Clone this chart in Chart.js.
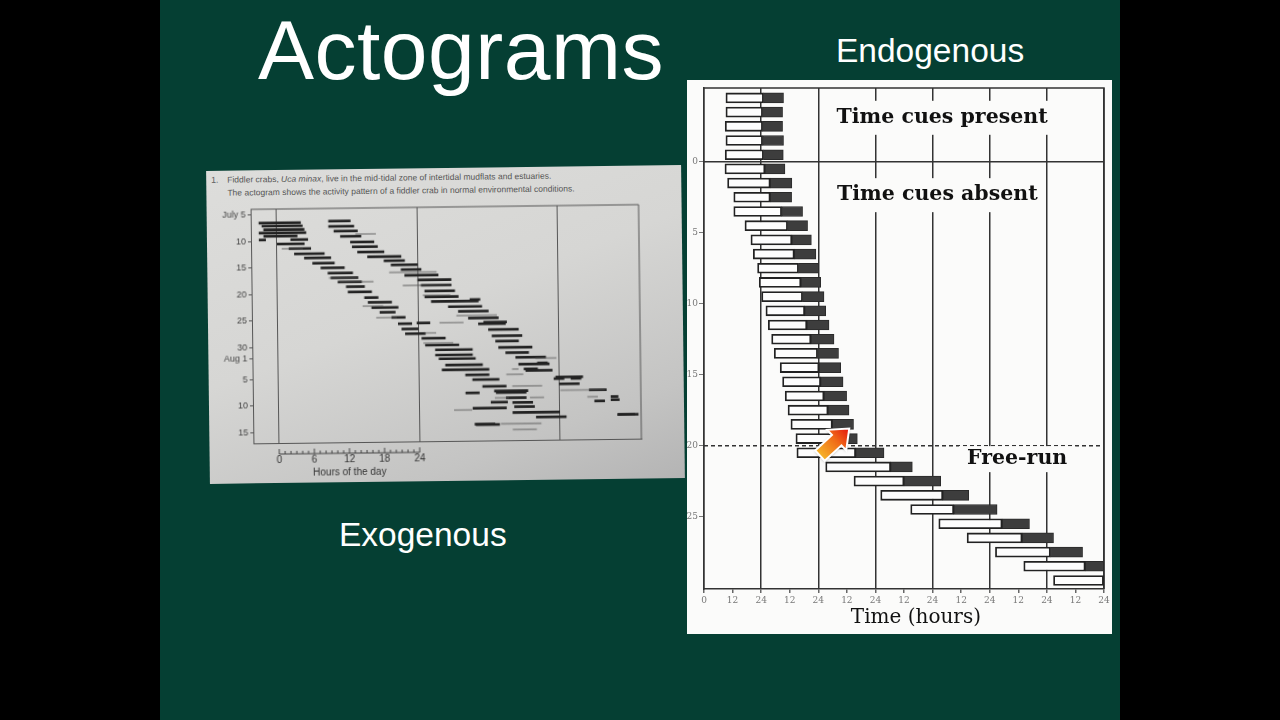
<!DOCTYPE html>
<html>
<head>
<meta charset="utf-8">
<script src="https://cdn.jsdelivr.net/npm/chart.js@4"></script>
<style>
  html, body { margin:0; padding:0; background:#000; }
  body { width:1280px; height:720px; position:relative; overflow:hidden; font-family:"Liberation Sans", Arial, sans-serif; }
  #slide { position:absolute; left:160px; top:0; width:960px; height:720px; background:#053f33; }
  .big { position:absolute; color:#fff; white-space:nowrap; }
  #title { left:258px; top:2px; font-size:84px; letter-spacing:0.5px; }
  #endoLbl { left:836px; top:32px; font-size:33.5px; }
  #exoLbl { left:339px; top:516px; font-size:33.5px; }
  #paper { position:absolute; left:208px; top:168px; width:475px; height:313px; transform:rotate(-0.7deg);
           background:linear-gradient(160deg, #dddddb 0%, #d6d6d4 45%, #c4c4c3 80%, #b4b4b4 100%); }
  #paper .q { position:absolute; font-size:8.5px; color:#555; white-space:nowrap; }
  #whitePanel { position:absolute; left:687px; top:80px; width:425px; height:554px; background:#fbfbfa; }
  canvas { position:absolute; left:0; top:0; }
</style>
</head>
<body>
<div id="slide"></div>
<div class="big" id="title">Actograms</div>
<div class="big" id="endoLbl">Endogenous</div>
<div class="big" id="exoLbl">Exogenous</div>

<div id="paper">
  <div class="q" style="left:5px;top:4px;">1.</div>
  <div class="q" style="left:21px;top:4px;">Fiddler crabs, <i>Uca minax</i>, live in the mid-tidal zone of intertidal mudflats and estuaries.</div>
  <div class="q" style="left:21px;top:17px;">The actogram shows the activity pattern of a fiddler crab in normal environmental conditions.</div>
  <canvas id="exo" width="475" height="313"></canvas>
</div>

<div id="whitePanel">
  <canvas id="endo" width="425" height="554"></canvas>
</div>

<script>
// ---------- Endogenous actogram (right) ----------
// one row per day, hours on a 7-day (0-168 h) axis
var endoDays   = [-5,-4,-3,-2,-1,0,1,2,3,4,5,6,7,8,9,10,11,12,13,14,15,16,17,18,19,20,21,22,23,24,25,26,27,28,29];
var restStart  = [9.2,9.2,8.9,9.2,8.9,8.8,9.9,12.5,12.5,17.2,19.7,20.7,22.5,23.2,24.2,26.0,27.0,28.4,29.5,32.0,33.0,34.1,35.3,36.5,38.6,39.0,51.1,63.0,74.2,86.8,98.6,110.5,122.4,134.3,146.8];
var restEnd    = [25.0,24.6,24.6,24.6,25.0,25.6,27.8,27.8,32.6,35.1,36.9,37.9,39.7,40.7,41.4,42.3,43.2,44.9,47.7,48.3,49.0,50.4,52.1,53.9,56.0,63.7,78.4,84.0,100.3,104.9,125.2,133.6,145.5,160.1,167.8];
var activeEnd  = [33.4,33.0,33.0,33.4,33.3,34.0,36.9,36.8,41.4,43.5,45.1,47.0,48.1,49.0,50.4,51.1,52.5,54.6,56.5,57.4,58.4,59.9,60.9,62.8,64.4,75.6,87.5,99.4,111.2,123.1,136.7,146.8,159.0,167.8,null];
var endoTickDays = [0,5,10,15,20,25];
var endoNotes = [
  {text:'Time cues present', hour:100, day:-3.1, half:17},
  {text:'Time cues absent',  hour:98,  day:2.35, half:17},
  {text:'Free-run',          hour:131.5, day:20.95, half:13}
];
var endoAxisTitle = {text:'Time (hours)', hour:89, below:29};
var arrowFrom = [48.7, 20.7];
var arrowTo   = [61.0, 18.8];

// ---------- Exogenous actogram (left) ----------
// [day after July 5, start hour, end hour], double plotted
var darkBouts = [
  [1.5,-3.0,4.1],[2.1,-2.5,4.4],[2.8,-2.2,4.7],[3.4,-3.0,5.0],[4.0,-2.2,3.5],[4.7,-3.0,-1.9],[4.7,2.4,5.3],
  [5.5,0.1,4.7],[6.4,2.1,5.8],[7.4,3.0,8.1],[8.2,4.7,9.2],[9.2,6.1,9.8],[10.1,7.5,11.5],[11.1,8.7,12.9],
  [12.0,9.2,13.8],[12.8,10.4,14.4],[13.7,11.8,14.9],[14.7,12.1,16.1],[15.8,14.9,17.2],[16.7,15.5,19.5],
  [17.7,16.1,20.6],[18.6,17.5,20.1],[19.6,19.5,21.8],[20.8,20.6,22.9],[21.8,21.2,24.0],[22.7,21.8,25.2],
  [23.6,24.6,28.6],[24.9,25.2,30.9],[25.8,26.9,33.2],[26.8,26.9,33.2],[27.5,27.5,33.7],[28.7,28.6,34.9],
  [29.6,28.0,36.0],[30.6,32.0,36.0],[31.5,33.2,37.7],[32.8,34.9,38.9],[34.0,32.0,34.3],[34.0,37.2,42.3],
  [35.0,38.9,42.3],[35.9,40.0,43.4],[36.9,33.2,38.9],[37.8,40.0,48.0],[38.7,44.0,49.1],[40.0,33.7,37.7],
  [1.3,8.9,12.6],[2.3,8.9,13.2],[3.2,9.8,13.8],[4.2,10.9,14.4],[5.3,12.6,16.6],[6.2,12.9,17.2],[7.2,13.8,18.3],
  [8.1,15.5,21.2],[8.9,18.3,21.8],[9.7,19.5,24.0],[10.6,21.2,24.6],[11.7,21.8,27.5],[12.6,24.0,29.7],
  [13.6,24.6,29.7],[14.7,25.2,30.3],[15.8,25.2,30.9],[16.7,26.3,34.3],[17.7,29.2,34.9],[18.6,30.9,36.0],
  [19.9,32.6,37.7],[21.0,34.3,38.9],[22.1,36.0,41.1],[23.3,36.6,41.7],[24.3,37.2,41.1],[25.5,37.7,43.4],
  [26.5,38.9,42.8],[27.4,40.6,45.7],[28.7,41.1,46.3],[29.9,42.3,46.8],[31.2,47.4,52.0],[32.5,48.0,51.4],
  [33.7,53.1,56.0],[35.6,56.8,58.2],[38.4,57.9,61.4],
  [20.7,23.8,26.0],[20.7,35.2,39.1],[16.4,32.9,34.6],[31.5,47.1,48.8],[31.5,50.0,51.7],[33.7,36.9,42.6],
  [35.0,56.8,58.0],[35.8,36.3,39.1],[35.8,54.0,55.7],[36.7,40.3,43.7],[38.4,58.0,60.8],[39.9,33.5,36.9],
  [29.6,42.0,44.3],[28.5,44.3,46.0]
];
var lightBouts = [
  [6.4,0.9,4.4],[12.0,8.9,13.6],[12.8,10.7,16.4],[3.8,13.5,16.9],[17.4,14.6,18.0],[19.6,16.9,20.3],
  [11.1,19.2,27.2],[13.6,21.5,29.5],[15.5,24.9,29.5],[19.4,30.6,37.4],[20.7,27.7,31.7],[22.6,25.0,27.0],
  [24.5,24.9,29.9],[27.6,44.0,47.5],[29.6,40.0,41.0],[30.6,39.0,41.8],[32.8,40.0,45.0],[33.7,48.2,55.7],
  [35.0,37.0,39.3],[35.0,43.0,45.3],[35.0,52.8,54.5],[39.9,38.0,44.8],[37.2,30.0,33.0],[41.0,40.0,44.0]
];
var exoTickDays   = [0,5,10,15,20,25,27,31,36,41];
var exoTickLabels = ['July 5','10','15','20','25','30','Aug 1','5','10','15'];
var exoHourLabels = [0,6,12,18,24];
var exoDayLines   = [0,24,48];

// ---------- right chart ----------
var endoPlugin = {
  id:'endoExtras',
  beforeDatasetsDraw: function(chart){
    var ctx = chart.ctx, a = chart.chartArea, xs = chart.scales.x, ys = chart.scales.y;
    ctx.save();
    ctx.strokeStyle = '#333'; ctx.lineWidth = 1.5;
    ctx.beginPath(); ctx.moveTo(a.left, a.top); ctx.lineTo(a.right, a.top); ctx.lineTo(a.right, a.bottom); ctx.stroke();
    var y0 = ys.getPixelForValue(0);
    ctx.beginPath(); ctx.moveTo(a.left, y0); ctx.lineTo(a.right, y0); ctx.stroke();
    var y20 = ys.getPixelForValue(20);
    ctx.setLineDash([4,3]); ctx.lineWidth = 1.5;
    ctx.beginPath(); ctx.moveTo(a.left, y20); ctx.lineTo(a.right, y20); ctx.stroke();
    ctx.setLineDash([]);
    ctx.font = 'bold 20.5px "DejaVu Serif", serif';
    ctx.textAlign = 'center'; ctx.textBaseline = 'middle';
    endoNotes.forEach(function(n){
      var x = xs.getPixelForValue(n.hour), y = ys.getPixelForValue(n.day);
      var w = ctx.measureText(n.text).width;
      ctx.fillStyle = '#fbfbfa';
      ctx.fillRect(x - w/2 - 8, y - n.half, w + 16, n.half * 2);
      ctx.fillStyle = '#111';
      ctx.fillText(n.text, x, y);
    });
    ctx.font = '20px "DejaVu Serif", serif';
    ctx.fillText(endoAxisTitle.text, xs.getPixelForValue(endoAxisTitle.hour), a.bottom + endoAxisTitle.below);
    ctx.restore();
  },
  afterDatasetsDraw: function(chart){
    var ctx = chart.ctx, xs = chart.scales.x, ys = chart.scales.y;
    var x1 = xs.getPixelForValue(arrowFrom[0]), y1 = ys.getPixelForValue(arrowFrom[1]);
    var x2 = xs.getPixelForValue(arrowTo[0]),   y2 = ys.getPixelForValue(arrowTo[1]);
    var ang = Math.atan2(y2 - y1, x2 - x1), len = Math.hypot(x2 - x1, y2 - y1);
    var sw = 7, hw = 14, hl = 17;
    ctx.save();
    ctx.translate(x1, y1); ctx.rotate(ang);
    ctx.beginPath();
    ctx.moveTo(0,-sw); ctx.lineTo(len-hl,-sw); ctx.lineTo(len-hl,-hw); ctx.lineTo(len,0);
    ctx.lineTo(len-hl,hw); ctx.lineTo(len-hl,sw); ctx.lineTo(0,sw); ctx.closePath();
    var g = ctx.createLinearGradient(0,0,len,0);
    g.addColorStop(0,'#f6b42a'); g.addColorStop(0.55,'#f06a17'); g.addColorStop(1,'#e3140e');
    ctx.shadowColor = 'rgba(0,0,0,0.35)'; ctx.shadowBlur = 3; ctx.shadowOffsetY = 1;
    ctx.fillStyle = g; ctx.fill();
    ctx.shadowColor = 'transparent';
    ctx.strokeStyle = '#fff'; ctx.lineWidth = 2; ctx.stroke();
    ctx.restore();
  }
};

var restData = [], activeData = [];
for (var i = 0; i < endoDays.length; i++) {
  restData.push({x:[restStart[i], restEnd[i]], y:endoDays[i] + 0.5});
  if (activeEnd[i] !== null) activeData.push({x:[restEnd[i], activeEnd[i]], y:endoDays[i] + 0.5});
}

new Chart(document.getElementById('endo'), {
  type:'bar',
  data:{ datasets:[
    { label:'rest', data:restData, backgroundColor:'#fdfdfd', borderColor:'#222', borderWidth:1.8,
      borderSkipped:false, barThickness:10, grouped:false },
    { label:'active', data:activeData, backgroundColor:'#3d3d3d', borderColor:'#2a2a2a', borderWidth:1,
      borderSkipped:false, barThickness:10, grouped:false }
  ]},
  options:{
    indexAxis:'y', responsive:false, animation:false,
    layout:{ padding:{ top:8, right:8, left:0, bottom:0 } },
    plugins:{ legend:{display:false}, tooltip:{enabled:false} },
    scales:{
      x:{ type:'linear', min:0, max:168, offset:false,
          afterFit:function(s){ s.height = 45; },
          ticks:{ stepSize:12, autoSkip:false, maxRotation:0, padding:2, color:'#777',
                  font:{family:'"DejaVu Serif", serif', size:9},
                  callback:function(v){ return v === 0 ? '0' : (v % 24 === 0 ? '24' : '12'); } },
          grid:{ offset:false, lineWidth:1.5, tickLength:4, tickColor:'#666',
                 color:function(c){ return (c.tick && c.tick.value % 24 === 0) ? '#333' : 'rgba(0,0,0,0)'; } },
          border:{ color:'#333', width:1.5 } },
      y:{ type:'linear', min:-5.2, max:30.1, reverse:true, offset:false,
          afterFit:function(s){ s.width = 17; },
          afterBuildTicks:function(s){ s.ticks = endoTickDays.map(function(v){ return {value:v}; }); },
          ticks:{ autoSkip:false, padding:1, color:'#777', font:{family:'"DejaVu Serif", serif', size:9} },
          grid:{ offset:false, drawOnChartArea:false, tickLength:5, tickColor:'#777' },
          border:{ color:'#333', width:1.5 } }
    }
  },
  plugins:[endoPlugin]
});

// ---------- left chart ----------
var exoPlugin = {
  id:'exoExtras',
  beforeDatasetsDraw:function(chart){
    var ctx = chart.ctx, a = chart.chartArea, xs = chart.scales.x;
    ctx.save();
    ctx.strokeStyle = '#555'; ctx.lineWidth = 1;
    ctx.beginPath(); ctx.moveTo(a.left, a.top); ctx.lineTo(a.right, a.top); ctx.lineTo(a.right, a.bottom); ctx.stroke();
    // hour ruler under the frame
    var ry = a.bottom + 11;
    ctx.strokeStyle = '#444';
    ctx.beginPath(); ctx.moveTo(xs.getPixelForValue(0), ry); ctx.lineTo(xs.getPixelForValue(24), ry);
    for (var h = 0; h <= 24; h++) {
      var px = xs.getPixelForValue(h), len = (h % 6 === 0) ? 5 : 3;
      ctx.moveTo(px, ry); ctx.lineTo(px, ry - len);
    }
    ctx.stroke();
    ctx.fillStyle = '#333'; ctx.font = '10px "Liberation Sans", Arial, sans-serif';
    ctx.textAlign = 'center'; ctx.textBaseline = 'middle';
    ctx.fillText('Hours of the day', (xs.getPixelForValue(0) + xs.getPixelForValue(24)) / 2, a.bottom + 30);
    ctx.restore();
  }
};

function toBars(list){ return list.map(function(b){ return {x:[b[1], b[2]], y:b[0]}; }); }

new Chart(document.getElementById('exo'), {
  type:'bar',
  data:{ datasets:[
    { label:'faint', data:toBars(lightBouts), backgroundColor:'rgba(80,80,80,0.45)', barThickness:1.2, grouped:false },
    { label:'activity', data:toBars(darkBouts), backgroundColor:'#222', barThickness:2, grouped:false }
  ]},
  options:{
    indexAxis:'y', responsive:false, animation:false,
    layout:{ padding:{ top:39, right:43, left:0, bottom:0 } },
    plugins:{ legend:{display:false}, tooltip:{enabled:false} },
    scales:{
      x:{ type:'linear', min:-4.4, max:61.9, offset:false,
          afterFit:function(s){ s.height = 40; },
          afterBuildTicks:function(s){
            var t = exoHourLabels.concat(exoDayLines.filter(function(v){ return exoHourLabels.indexOf(v) < 0; }));
            s.ticks = t.map(function(v){ return {value:v}; });
          },
          ticks:{ autoSkip:false, maxRotation:0, padding:11, color:'#333', font:{size:10},
                  callback:function(v){ return exoHourLabels.indexOf(v) >= 0 ? String(v) : ''; } },
          grid:{ offset:false, drawTicks:false, lineWidth:1,
                 color:function(c){ return (c.tick && exoDayLines.indexOf(c.tick.value) >= 0) ? '#555' : 'rgba(0,0,0,0)'; } },
          border:{ color:'#555', width:1 } },
      y:{ type:'linear', min:-1.1, max:43.0, reverse:true, offset:false,
          afterFit:function(s){ s.width = 44; },
          afterBuildTicks:function(s){ s.ticks = exoTickDays.map(function(v){ return {value:v}; }); },
          ticks:{ autoSkip:false, padding:2, color:'#444', font:{size:9},
                  callback:function(v){ var k = exoTickDays.indexOf(v); return k >= 0 ? exoTickLabels[k] : ''; } },
          grid:{ offset:false, drawOnChartArea:false, tickLength:3, tickColor:'#555' },
          border:{ color:'#555', width:1 } }
    }
  },
  plugins:[exoPlugin]
});
</script>
</body>
</html>
